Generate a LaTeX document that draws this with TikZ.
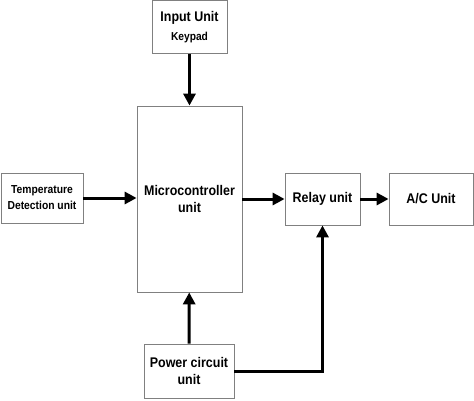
\documentclass[tikz,border=0pt]{standalone}
\usepackage{fontspec}
\setmainfont[FakeStretch=0.89]{Liberation Sans}
\usetikzlibrary{arrows.meta}
\begin{document}
\begin{tikzpicture}[x=1pt,y=-1pt,
  blk/.style={draw=black!50, line width=0.8pt, fill=white, inner sep=0pt, align=center, font=\bfseries\fontsize{14}{17}\selectfont},
  flow/.style={line width=3pt, -{Triangle[length=12pt,width=12pt]}}]
\useasboundingbox (0,0) rectangle (474,401);
\node[blk, minimum width=75, minimum height=53] (inp) at (189.5,27) {Input Unit\\[1.5pt]{\fontsize{11.5}{14}\selectfont Keypad}};
\node[blk, minimum width=105, minimum height=186] (mcu) at (189.5,199) {Microcontroller\\unit};
\node[blk, minimum width=82, minimum height=50, font=\bfseries\fontsize{11.6}{16}\selectfont] (temp) at (42,198) {Temperature\\Detection unit};
\node[blk, minimum width=75, minimum height=52] (relay) at (322.5,199) {Relay unit};
\node[blk, minimum width=84, minimum height=52] (ac) at (431,199) {A/C Unit};
\node[blk, minimum width=90, minimum height=54] (pwr) at (189,371) {Power circuit\\unit};
\draw[flow] (inp) -- (mcu);
\draw[flow] (temp.east) -- (temp.east -| mcu.west);
\draw[flow] (mcu.east |- relay) -- (relay.west);
\draw[flow] (relay) -- (ac);
\draw[flow] (pwr) -- (mcu);
\draw[flow] (pwr.east) -| (relay.south);
\end{tikzpicture}
\end{document}
